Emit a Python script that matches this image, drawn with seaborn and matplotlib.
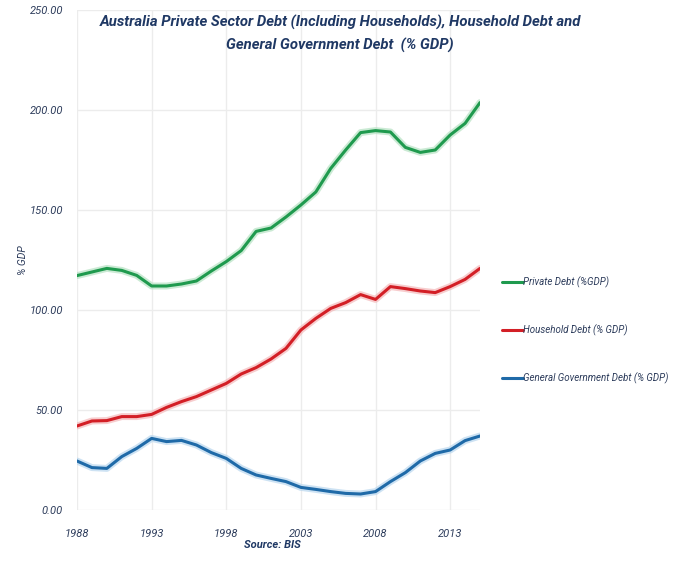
import numpy as np
import pandas as pd
import matplotlib
matplotlib.use("Agg")
import matplotlib.pyplot as plt
import seaborn as sns

# annual values (% of GDP)
years = list(range(1988, 2016))
private_debt = [117.2, 119.0, 120.8, 119.8, 117.3, 112.0, 112.0, 113.0, 114.5, 119.5,
                124.2, 129.7, 139.3, 141.0, 146.5, 152.5, 159.0, 170.8, 180.0, 188.7,
                189.7, 189.0, 181.3, 178.8, 180.0, 187.5, 193.3, 203.7]
household_debt = [42.0, 44.5, 44.7, 46.7, 46.7, 47.8, 51.3, 54.2, 56.7, 60.0,
                  63.3, 68.0, 71.2, 75.5, 80.8, 90.0, 95.8, 100.8, 103.7, 107.7,
                  105.3, 111.7, 110.7, 109.5, 108.7, 111.7, 115.3, 120.8]
gov_debt = [24.5, 21.2, 20.8, 26.7, 30.8, 35.8, 34.2, 34.8, 32.5, 28.7,
            25.8, 20.8, 17.5, 15.8, 14.2, 11.3, 10.3, 9.2, 8.3, 8.0,
            9.2, 14.2, 18.7, 24.5, 28.3, 30.0, 34.7, 37.0]
series_names = ["Private Debt (%GDP)", "Household Debt (% GDP)",
                "General Government Debt (% GDP)"]
colors = ["#1f9a4e", "#d31f26", "#1f6aa8"]
glow = ["#b5e2c2", "#f4b8ba", "#b8d6ee"]

df = pd.concat([
    pd.DataFrame({"year": years, "value": private_debt, "series": series_names[0]}),
    pd.DataFrame({"year": years, "value": household_debt, "series": series_names[1]}),
    pd.DataFrame({"year": years, "value": gov_debt, "series": series_names[2]}),
])

sns.set_style("white")
plt.rcParams['font.family'] = ['Roboto', 'DejaVu Sans']
text_col = "#2e3d5c"
title_col = "#1f3864"

fig = plt.figure(figsize=(6.77, 5.63), dpi=100)
ax = fig.add_axes([77/677, 1-510/563, (480-77)/677, 500/563])

# soft glow under each line
sns.lineplot(data=df, x="year", y="value", hue="series", hue_order=series_names,
             palette=glow, linewidth=5, alpha=0.7, legend=False, ax=ax)
sns.lineplot(data=df, x="year", y="value", hue="series", hue_order=series_names,
             palette=colors, linewidth=2.2, ax=ax)

ax.set_xlim(1988, 2015)
ax.set_ylim(0, 250)
ax.set_xticks(range(1988, 2015, 5))
ax.set_yticks(np.arange(0, 251, 50))
ax.set_yticklabels([f"{v:.2f}" for v in np.arange(0, 251, 50)])
ax.grid(True, color="#ececec", linewidth=1)
for s in ax.spines.values():
    s.set_visible(False)
ax.tick_params(length=0, labelsize=8, labelcolor=text_col)
ax.tick_params(axis="y", pad=10)
ax.tick_params(axis="x", pad=14)
for lab in ax.get_xticklabels() + ax.get_yticklabels():
    lab.set_fontstyle("italic")
ax.set_xlabel("")
ax.set_ylabel("")
fig.text(23/677, 1-260/563, "% GDP", rotation=90, ha="center", va="center",
         fontsize=7.5, color=text_col, fontstyle="italic")

leg = ax.legend(loc="upper left", bbox_to_anchor=(1.055, 0.467), frameon=False,
                borderpad=0, borderaxespad=0, handlelength=2.1, handletextpad=0.05,
                labelspacing=3.75, fontsize=7)
for t in leg.get_texts():
    t.set_color(text_col)
    t.set_fontstyle("italic")

title = fig.text(340/677, 1-34/563,
                 "Australia Private Sector Debt (Including Households), Household Debt and\n"
                 "General Government Debt  (% GDP)", ha="center", va="center", fontsize=9,
                 fontweight="bold", fontstyle="italic", color=title_col, linespacing=1.7)
fig.text(272/677, 1-545/563, "Source: BIS", ha="center", va="center", fontsize=8,
         fontweight="bold", fontstyle="italic", color=title_col)

# fit the title width to the reference (~483 px for the first line)
r = fig.canvas.get_renderer()
w = title.get_window_extent(r).width
title.set_fontsize(9 * 483 / w)

fig.savefig("out.png", dpi=100)
